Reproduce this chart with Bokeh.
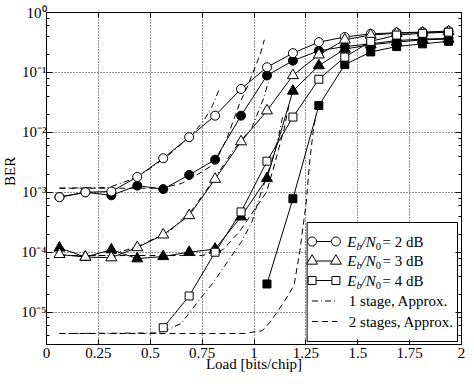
import math
from bokeh.plotting import figure
from bokeh.layouts import row
from bokeh.models import (Range1d, LinearAxis, LogAxis, Label, FixedTicker,
                          LogTicker, CustomJSTickFormatter)
from bokeh.core.properties import value
from bokeh.embed import file_html
from bokeh.resources import INLINE

# ---------------- data ----------------
load = [0.0625, 0.1875, 0.3125, 0.4375, 0.5625, 0.6875, 0.8125, 0.9375,
        1.0625, 1.1875, 1.3125, 1.4375, 1.5625, 1.6875, 1.8125, 1.9375]

ber_2db_open = [8.3e-4, 1.0e-3, 1.03e-3, 1.8e-3, 3.7e-3, 8.3e-3, 1.9e-2, 5.3e-2,
                0.122, 0.21, 0.32, 0.39, 0.44, 0.46, 0.47, 0.49]
ber_2db_filled = [8.3e-4, 1.0e-3, 8.9e-4, 1.29e-3, 1.13e-3, 1.95e-3, 3.5e-3, 1.9e-2,
                  8.9e-2, 0.157, 0.23, 0.27, 0.30, 0.34, 0.36, 0.37]
ber_3db_open = [9.2e-5, 8.3e-5, 8.1e-5, 1.2e-4, 1.95e-4, 4.1e-4, 1.66e-3, 7.0e-3,
                2.3e-2, 8.9e-2, 0.197, 0.35, 0.42, 0.45, 0.46, 0.48]
ber_3db_filled = [1.18e-4, 8.3e-5, 1.1e-4, 7.8e-5, 8.5e-5, 1.0e-4, 1.13e-4, 3.9e-4,
                  1.7e-3, 4.9e-2, 0.13, 0.245, 0.29, 0.32, 0.35, 0.36]
load_4db_open = [0.5625, 0.6875, 0.8125, 0.9375, 1.0625, 1.1875, 1.3125, 1.4375,
                 1.5625, 1.6875, 1.8125, 1.9375]
ber_4db_open = [5.5e-6, 1.86e-5, 1.0e-4, 4.7e-4, 3.3e-3, 1.8e-2, 7.7e-2, 0.18,
                0.33, 0.42, 0.45, 0.47]
load_4db_filled = [1.0625, 1.1875, 1.3125, 1.4375, 1.5625, 1.6875, 1.8125, 1.9375]
ber_4db_filled = [2.95e-5, 7.8e-4, 2.8e-2, 0.135, 0.22, 0.27, 0.30, 0.33]

# approximations (1 stage: dash-dot, 2 stages: dashed)
ap1_2db_x = [0.0625, 0.3, 0.4, 0.5, 0.6, 0.7, 0.76, 0.8, 0.83]
ap1_2db_y = [1.17e-3, 1.2e-3, 1.6e-3, 2.5e-3, 4.5e-3, 9e-3, 1.6e-2, 2.8e-2, 5e-2]
ap2_2db_x = [0.0625, 0.55, 0.65, 0.75, 0.81, 0.87, 0.93, 0.97, 1.0, 1.03, 1.05]
ap2_2db_y = [1.17e-3, 1.17e-3, 1.4e-3, 2.2e-3, 3.0e-3, 8e-3, 3e-2, 6e-2, 0.11, 0.2, 0.35]
ap1_3db_x = [0.0625, 0.3, 0.44, 0.59, 0.7, 0.8, 0.9, 0.99, 1.045, 1.07]
ap1_3db_y = [8.8e-5, 8.8e-5, 1.25e-4, 2.2e-4, 5e-4, 1.5e-3, 5e-3, 1.2e-2, 3.6e-2, 7e-2]
ap2_3db_x = [0.0625, 0.75, 0.85, 0.93, 1.0, 1.06, 1.1, 1.12, 1.146, 1.17]
ap2_3db_y = [8.8e-5, 8.8e-5, 1.1e-4, 2.2e-4, 5e-4, 1.0e-3, 3e-3, 5.5e-3, 1.17e-2, 3e-2]
ap1_4db_x = [0.0625, 0.55, 0.65, 0.73, 0.8, 0.86, 0.94, 0.99, 1.02, 1.06, 1.09, 1.12, 1.14]
ap1_4db_y = [4.4e-6, 4.5e-6, 6.5e-6, 1.5e-5, 3e-5, 6e-5, 1.5e-4, 3.2e-4, 7e-4,
             1.8e-3, 3.7e-3, 9e-3, 2e-2]
ap2_4db_x = [0.0625, 0.95, 1.04, 1.08, 1.146, 1.193, 1.22, 1.25, 1.27, 1.287, 1.30]
ap2_4db_y = [4.4e-6, 4.4e-6, 4.9e-6, 7e-6, 1.5e-5, 2.8e-5, 1.0e-4, 6e-4, 3.7e-3, 1.17e-2, 2e-2]

x_ticks = [0, 0.25, 0.5, 0.75, 1, 1.25, 1.5, 1.75, 2]
legend_labels = ["= 2 dB", "= 3 dB", "= 4 dB", "1 stage, Approx.", "2 stages, Approx."]
y_title = "BER"
x_title = "Load [bits/chip]"

# ---------------- geometry (picture pixels) ----------------
W, H = 466, 376
LEFT_W = 18                     # narrow strip holding the y title
FL, FR, FT, FB = 43, 461, 12, 344
X_MIN, X_MAX = 0.0, 2.0
NDEC = 5.54                      # decades shown (1 down to ~2.9e-6)


def dx(px):
    return X_MIN + (px - FL) / (FR - FL) * (X_MAX - X_MIN)


def dy(py):
    return 10 ** (-(py - FT) / (FB - FT) * NDEC)


FONT = "Liberation Serif"
EMPTY = CustomJSTickFormatter(code="return '';")
SUP = CustomJSTickFormatter(code="""
const e = Math.round(Math.log10(tick));
const m = {'-': '\\u207b', '0': '\\u2070', '1': '\\u00b9', '2': '\\u00b2', '3': '\\u00b3',
           '4': '\\u2074', '5': '\\u2075', '6': '\\u2076', '7': '\\u2077', '8': '\\u2078', '9': '\\u2079'};
return '10' + String(e).split('').map(c => m[c]).join('');
""")

# ---------------- strip with the y title ----------------
strip = figure(width=LEFT_W, height=H, x_range=Range1d(0, LEFT_W), y_range=Range1d(H, 0),
               output_backend="svg", toolbar_location=None, min_border=0,
               x_axis_location=None, y_axis_location=None)
strip.outline_line_color = None
strip.grid.visible = False
strip.background_fill_color = "white"
strip.border_fill_color = "white"
strip.text(x=[9], y=[180], text=[y_title], angle=math.pi / 2, text_align="center",
           text_baseline="middle", text_font=value(FONT), text_font_size=value("15px"),
           text_color="black")

# ---------------- main plot ----------------
PW = W - LEFT_W
p = figure(width=PW, height=H, x_range=Range1d(X_MIN, X_MAX),
           y_range=Range1d(10 ** -NDEC, 1.0), y_axis_type="log",
           output_backend="svg", toolbar_location=None,
           min_border_left=FL - LEFT_W, min_border_right=W - FR,
           min_border_top=FT, min_border_bottom=H - FB)
p.background_fill_color = "white"
p.border_fill_color = "white"
p.outline_line_color = "black"
p.outline_line_width = 1

p.xaxis.ticker = FixedTicker(ticks=x_ticks)
p.xaxis.formatter = CustomJSTickFormatter(code="return tick.toString();")
p.xaxis.major_label_text_font = FONT
p.xaxis.major_label_text_font_size = "15px"
p.xaxis.major_label_text_color = "black"
p.xaxis.major_label_standoff = 3
p.xaxis.major_tick_in = 5
p.xaxis.major_tick_out = 0
p.xaxis.minor_tick_line_color = None
p.xaxis.axis_line_color = "black"
p.xaxis.major_tick_line_color = "black"
p.xaxis.axis_label = x_title
p.xaxis.axis_label_text_font = FONT
p.xaxis.axis_label_text_font_size = "15px"
p.xaxis.axis_label_text_font_style = "normal"
p.xaxis.axis_label_text_color = "black"
p.xaxis.axis_label_standoff = -5

p.yaxis.ticker = LogTicker()
p.yaxis.formatter = SUP
p.yaxis.major_label_text_font = FONT
p.yaxis.major_label_text_font_size = "15px"
p.yaxis.major_label_text_color = "black"
p.yaxis.major_label_standoff = 0
p.yaxis.major_tick_in = 6
p.yaxis.major_tick_out = 0
p.yaxis.minor_tick_in = 3
p.yaxis.minor_tick_out = 0
p.yaxis.axis_line_color = "black"
p.yaxis.major_tick_line_color = "black"
p.yaxis.minor_tick_line_color = "black"

top_ax = LinearAxis(ticker=FixedTicker(ticks=x_ticks), formatter=EMPTY,
                    major_label_standoff=0, major_tick_in=5, major_tick_out=0,
                    minor_tick_line_color=None, axis_line_color="black")
p.add_layout(top_ax, "above")
right_ax = LogAxis(ticker=LogTicker(), formatter=EMPTY,
                   major_label_standoff=0, major_tick_in=6, major_tick_out=0,
                   minor_tick_in=3, minor_tick_out=0, axis_line_color="black")
p.add_layout(right_ax, "right")

for g in (p.xgrid, p.ygrid):
    g.grid_line_color = "#222222"
    g.grid_line_dash = "1 2"
    g.grid_line_width = 1
p.ygrid.minor_grid_line_color = None

DASHDOT = "6 3 1 3"
DASHED = "6 4"

for xs, ys in ((ap1_2db_x, ap1_2db_y), (ap1_3db_x, ap1_3db_y), (ap1_4db_x, ap1_4db_y)):
    p.line(xs, ys, line_color="black", line_width=1, line_dash=DASHDOT)
for xs, ys in ((ap2_2db_x, ap2_2db_y), (ap2_3db_x, ap2_3db_y), (ap2_4db_x, ap2_4db_y)):
    p.line(xs, ys, line_color="black", line_width=1, line_dash=DASHED)

series = [
    (load, ber_2db_filled, "circle", 9, "black"),
    (load, ber_2db_open, "circle", 9, "white"),
    (load, ber_3db_filled, "triangle", 11, "black"),
    (load, ber_3db_open, "triangle", 11, "white"),
    (load_4db_filled, ber_4db_filled, "square", 8, "black"),
    (load_4db_open, ber_4db_open, "square", 8, "white"),
]
for xs, ys, mk, sz, fc in series:
    p.line(xs, ys, line_color="black", line_width=1)
for xs, ys, mk, sz, fc in series:
    p.scatter(xs, ys, marker=mk, size=sz, fill_color=fc, line_color="black", line_width=1)

# ---------------- legend (drawn by hand) ----------------
p.quad(left=[dx(305.5)], right=[dx(457)], top=[dy(222)], bottom=[dy(341)],
       fill_color="white", line_color="black", line_width=1)
rows = [241, 260.5, 280, 300.5, 321]
lx0, lx1 = 310.5, 334.5
for i, (mk, sz) in enumerate((("circle", 9), ("triangle", 11), ("square", 8))):
    r = rows[i]
    p.line([dx(lx0), dx(lx1)], [dy(r), dy(r)], line_color="black", line_width=1)
    p.scatter([dx(lx0), dx(lx1)], [dy(r), dy(r)], marker=mk, size=sz,
              fill_color="white", line_color="black", line_width=1)
p.line([dx(lx0), dx(lx1)], [dy(rows[3]), dy(rows[3])], line_color="black",
       line_width=1, line_dash=DASHDOT)
p.line([dx(lx0), dx(lx1 + 1.5)], [dy(rows[4]), dy(rows[4])], line_color="black",
       line_width=1, line_dash=DASHED)


def lab(px, py, text, size="15px", style="normal"):
    p.add_layout(Label(x=dx(px), y=dy(py), text=text, text_font=FONT,
                       text_font_size=size, text_font_style=style, text_align="left",
                       text_baseline="middle", text_color="black"))


for i in range(3):
    r = rows[i]
    x0 = 346
    lab(x0, r, "E", style="italic")
    lab(x0 + 9.2, r + 4.5, "b", size="10.5px", style="italic")
    lab(x0 + 14.4, r, "/N", style="italic")
    lab(x0 + 28.6, r + 4.5, "0", size="10.5px")
    lab(x0 + 35.5, r, legend_labels[i])
lab(347.5, rows[3], legend_labels[3])
lab(347.5, rows[4], legend_labels[4])

layout = row(strip, p)
open("out.html", "w", encoding="utf-8").write(file_html(layout, INLINE))
